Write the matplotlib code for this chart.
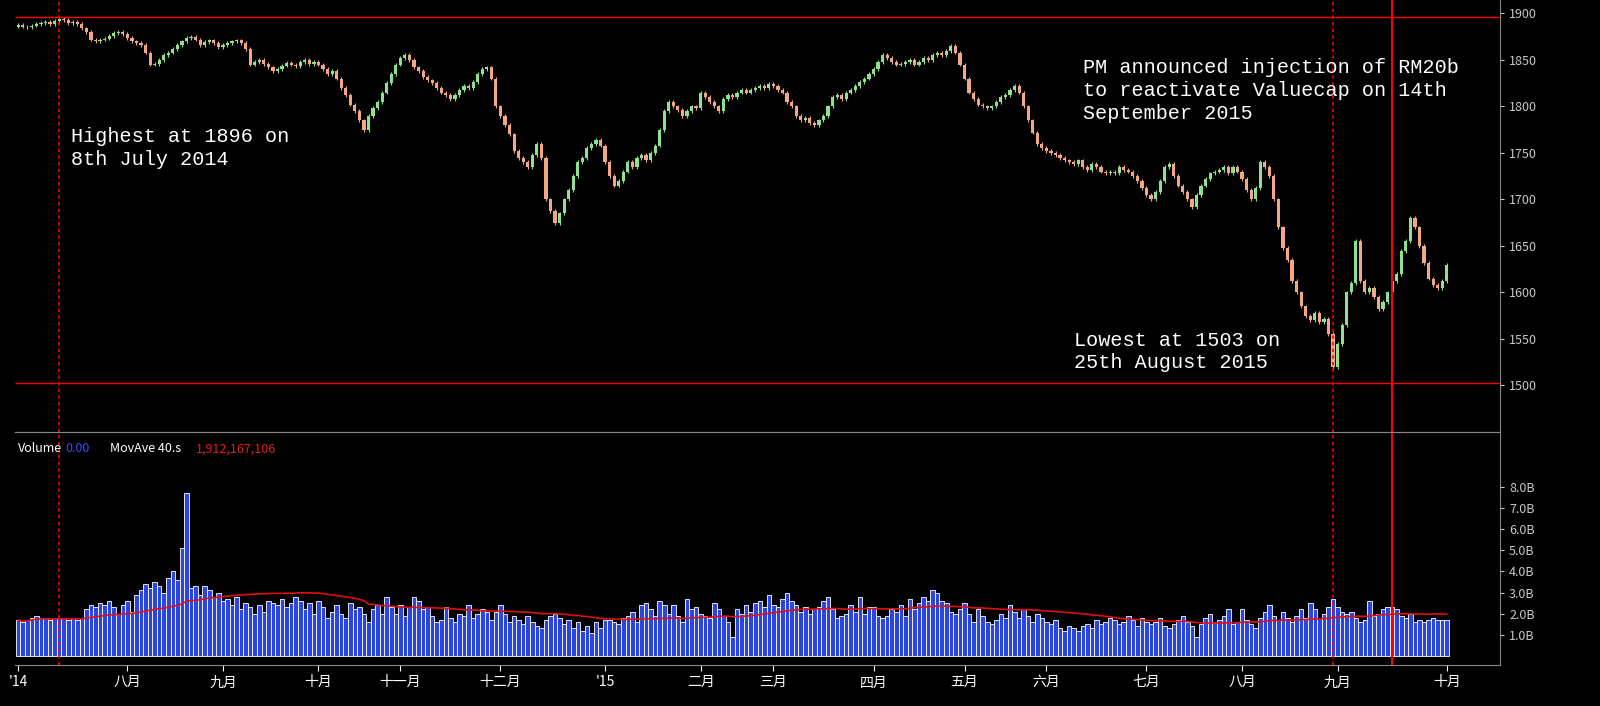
import matplotlib
matplotlib.use("Agg")
import matplotlib.pyplot as plt
import numpy as np
import pandas as pd

# ---------------------------------------------------------------------------
# Data (FBM KLCI daily closes, Jul 2014 - Sep 2015)
# ---------------------------------------------------------------------------
start_open = 1886
closes = [
    1888, 1886, 1885, 1887, 1889, 1890, 1891, 1889, 1892, 1894,
    1893, 1890, 1891, 1889, 1884, 1880, 1872, 1870, 1872, 1873,
    1876, 1879, 1880, 1878, 1874, 1870, 1868, 1866, 1858, 1845,
    1846, 1850, 1855, 1858, 1862, 1866, 1870, 1874, 1875, 1872,
    1866, 1869, 1871, 1868, 1864, 1866, 1868, 1870, 1871, 1868,
    1862, 1845, 1848, 1850, 1846, 1842, 1838, 1840, 1844, 1847,
    1845, 1843, 1848, 1850, 1846, 1848, 1845, 1840, 1835, 1838,
    1830, 1820, 1812, 1802, 1795, 1785, 1775, 1790, 1798, 1805,
    1815, 1825, 1835, 1845, 1852, 1855, 1850, 1842, 1838, 1832,
    1828, 1825, 1820, 1815, 1812, 1808, 1812, 1818, 1822, 1820,
    1826, 1835, 1840, 1842, 1830, 1800, 1790, 1780, 1770, 1752,
    1745, 1740, 1735, 1748, 1760, 1745, 1700, 1688, 1675, 1685,
    1700, 1710, 1725, 1740, 1745, 1755, 1760, 1764, 1758, 1740,
    1725, 1715, 1720, 1730, 1740, 1735, 1745, 1748, 1742, 1750,
    1758, 1775, 1795, 1805, 1800, 1796, 1790, 1795, 1800, 1798,
    1815, 1810, 1805, 1800, 1795, 1808, 1812, 1810, 1815, 1818,
    1815, 1818, 1820, 1822, 1820, 1824, 1822, 1818, 1815, 1805,
    1800, 1790, 1785, 1788, 1782, 1780, 1785, 1790, 1800, 1810,
    1812, 1808, 1815, 1818, 1822, 1826, 1830, 1835, 1840, 1848,
    1855, 1852, 1848, 1845, 1846, 1848, 1850, 1845, 1848, 1852,
    1850, 1855, 1858, 1855, 1860, 1865, 1858, 1845, 1830, 1815,
    1808, 1802, 1800, 1798, 1800, 1805, 1810, 1812, 1818, 1822,
    1815, 1800, 1785, 1772, 1760, 1755, 1752, 1750, 1748, 1745,
    1742, 1740, 1738, 1742, 1735, 1732, 1738, 1735, 1730, 1728,
    1730, 1728, 1735, 1732, 1730, 1725, 1720, 1712, 1705, 1700,
    1708, 1720, 1735, 1738, 1725, 1715, 1708, 1700, 1692, 1705,
    1715, 1722, 1728, 1730, 1732, 1735, 1728, 1735, 1730, 1722,
    1710, 1700, 1712, 1740, 1735, 1725, 1700, 1670, 1648, 1635,
    1612, 1600, 1585, 1575, 1570, 1578, 1568, 1572, 1555, 1520,
    1545, 1565, 1600, 1610, 1655, 1612, 1600, 1605, 1595, 1582,
    1590, 1600, 1612, 1620, 1645, 1655, 1680, 1670, 1650, 1632,
    1615, 1608, 1605, 1612, 1630,
]

# volume in billions
volumes = [
    1.7, 1.6, 1.7, 1.8, 1.9, 1.8, 1.8, 1.7, 1.8, 1.8,
    1.8, 1.7, 1.8, 1.7, 1.8, 2.2, 2.4, 2.3, 2.5, 2.4,
    2.6, 2.3, 2.0, 2.4, 2.6, 2.1, 2.9, 3.1, 3.4, 3.2,
    3.5, 3.3, 3.0, 3.7, 4.0, 3.6, 5.1, 7.7, 3.2, 3.3,
    2.9, 3.3, 3.1, 2.8, 3.0, 2.6, 2.7, 2.4, 2.8, 2.2,
    2.5, 2.3, 2.0, 2.4, 2.1, 2.6, 2.5, 2.4, 2.7, 2.3,
    2.5, 2.8, 2.6, 2.2, 2.5, 2.0, 2.6, 2.3, 1.8, 2.1,
    2.4, 2.0, 1.8, 2.5, 2.2, 2.3, 2.0, 1.6, 2.2, 2.4,
    2.0, 2.8, 2.3, 2.0, 2.4, 1.9, 2.3, 2.8, 2.6, 2.2,
    2.3, 1.9, 1.6, 1.7, 2.3, 1.8, 1.6, 2.0, 1.9, 2.4,
    1.8, 2.0, 2.2, 2.1, 1.7, 2.1, 2.4, 2.0, 1.6, 1.9,
    1.7, 1.5, 1.9, 1.6, 1.4, 1.3, 1.7, 1.9, 2.0, 1.8,
    1.5, 1.7, 1.3, 1.6, 1.2, 1.4, 1.1, 1.6, 1.3, 1.7,
    1.7, 1.6, 1.5, 1.8, 1.9, 2.1, 1.6, 2.4, 2.5, 2.2,
    1.9, 2.6, 2.4, 2.0, 2.4, 1.9, 1.6, 2.7, 2.2, 2.3,
    2.0, 1.9, 1.8, 2.5, 2.2, 1.9, 1.6, 0.9, 2.2, 2.0,
    2.4, 2.1, 2.5, 2.6, 2.3, 2.9, 2.4, 2.3, 2.7, 3.0,
    2.6, 2.4, 2.1, 2.3, 2.0, 2.2, 2.3, 2.6, 2.8, 2.2,
    1.8, 1.9, 2.0, 2.4, 2.1, 2.8, 2.0, 2.3, 2.3, 1.9,
    1.8, 1.9, 2.2, 2.1, 2.4, 1.9, 2.7, 2.2, 2.5, 2.8,
    2.6, 3.1, 3.0, 2.6, 2.5, 2.1, 2.0, 2.2, 2.5, 2.0,
    1.6, 2.2, 1.9, 1.6, 1.5, 1.7, 2.0, 1.8, 2.4, 2.1,
    1.8, 2.2, 1.9, 1.6, 2.0, 1.8, 1.6, 1.5, 1.7, 1.3,
    1.2, 1.4, 1.3, 1.2, 1.4, 1.5, 1.3, 1.7, 1.5, 1.6,
    1.8, 1.7, 1.5, 1.6, 1.9, 1.7, 1.4, 1.8, 1.6, 1.5,
    1.6, 1.8, 1.4, 1.3, 1.5, 1.7, 1.9, 1.6, 1.4, 0.9,
    1.5, 1.8, 2.0, 1.6, 1.7, 1.9, 2.2, 1.5, 1.6, 2.2,
    1.7, 1.5, 1.3, 1.8, 2.1, 2.4, 1.9, 1.7, 2.1, 1.8,
    1.6, 1.9, 2.2, 1.8, 2.5, 2.2, 1.8, 2.0, 2.3, 2.7,
    2.3, 2.1, 2.0, 2.1, 1.8, 1.6, 1.7, 2.6, 1.9, 2.0,
    2.2, 2.3, 2.3, 2.2, 1.9, 1.8, 2.0, 1.6, 1.7, 1.6,
    1.7, 1.8, 1.7, 1.7, 1.7,
]

month_pos = [0, 24, 45, 66, 84, 106, 129, 150, 166, 188, 208, 226, 248, 269, 290, 314]
month_labels = ["'14", "八月", "九月", "十月", "十一月", "十二月", "'15", "二月", "三月",
                "四月", "五月", "六月", "七月", "八月", "九月", "十月"]

high_price, low_price = 1896, 1503
high_idx, low_idx, inject_idx = 9, 289, 302

# ---------------------------------------------------------------------------
plt.rcParams["font.family"] = ["Noto Sans CJK SC", "DejaVu Sans"]
fig = plt.figure(figsize=(16, 7.06), dpi=100, facecolor="black")
W, H = 1600, 706
ax = fig.add_axes([15 / W, (H - 432) / H, 1485 / W, 432 / H], facecolor="black")
axv = fig.add_axes([15 / W, (H - 665) / H, 1485 / W, 233 / H], facecolor="black", sharex=ax)

x = np.arange(len(closes))
opens = [start_open] + closes[:-1]
up_col, dn_col = "#8fe08f", "#f4a784"
for i, (o, c) in enumerate(zip(opens, closes)):
    col = up_col if c >= o else dn_col
    lo, hi = min(o, c), max(o, c)
    ax.vlines(i, lo - 2, hi + 2, color=col, lw=0.8)
    ax.bar(i, max(hi - lo, 0.8), bottom=lo, width=0.7, color=col, linewidth=0)

xmin, xmax = -0.7, 325.7
ax.set_xlim(xmin, xmax)
ax.set_ylim(1450, 1914.5)
ax.hlines([high_price, low_price], xmin, xmax, color="red", lw=1)
for a in (ax, axv):
    a.axvline(high_idx, color="red", lw=1.2, ls=(0, (2, 2)))
    a.axvline(low_idx, color="red", lw=1.2, ls=(0, (2, 2)))
    a.axvline(inject_idx, color="red", lw=1.5)

txt = dict(color="white", fontsize=14.5, family="Liberation Mono", va="top", linespacing=1.25)
ax.text(11.5, 1778, "Highest at 1896 on\n8th July 2014", **txt)
ax.text(234, 1852, "PM announced injection of RM20b\nto reactivate Valuecap on 14th\nSeptember 2015", **txt)
ax.text(232, 1559, "Lowest at 1503 on\n25th August 2015", **txt)

# volume panel
vol = pd.Series(volumes)
axv.bar(x, vol, width=1.0, color="#2a45e0", edgecolor="white", linewidth=0.6)
axv.plot(x, vol.rolling(40, min_periods=1).mean(), color="#e01010", lw=1.2)
axv.set_ylim(-0.43, 10.6)
axv.set_yticks([1, 2, 3, 4, 5, 6, 7, 8])
axv.set_yticklabels([f"{v}.0B" for v in range(1, 9)])

fs = 9
axv.text(0.002, 0.955, "Volume", transform=axv.transAxes, color="white", fontsize=fs, va="top")
axv.text(0.034, 0.955, "0.00", transform=axv.transAxes, color="#3050ff", fontsize=fs, va="top")
axv.text(0.064, 0.955, "MovAve 40.s", transform=axv.transAxes, color="white", fontsize=fs, va="top")
axv.text(0.122, 0.955, "1,912,167,106", transform=axv.transAxes, color="#e02020", fontsize=fs, va="top")

for a in (ax, axv):
    a.yaxis.tick_right()
    a.tick_params(axis="y", colors="#c8c8c8", labelsize=9, length=3)
    for s in a.spines.values():
        s.set_color("#888888")
    a.spines["left"].set_visible(False)
ax.spines["top"].set_visible(False)
ax.set_yticks(range(1500, 1901, 50))
ax.tick_params(axis="x", bottom=False, labelbottom=False)
axv.set_xticks(month_pos)
axv.set_xticklabels(month_labels)
axv.tick_params(axis="x", colors="white", labelsize=10, length=4)

fig.savefig("out.png", dpi=100, facecolor="black")
